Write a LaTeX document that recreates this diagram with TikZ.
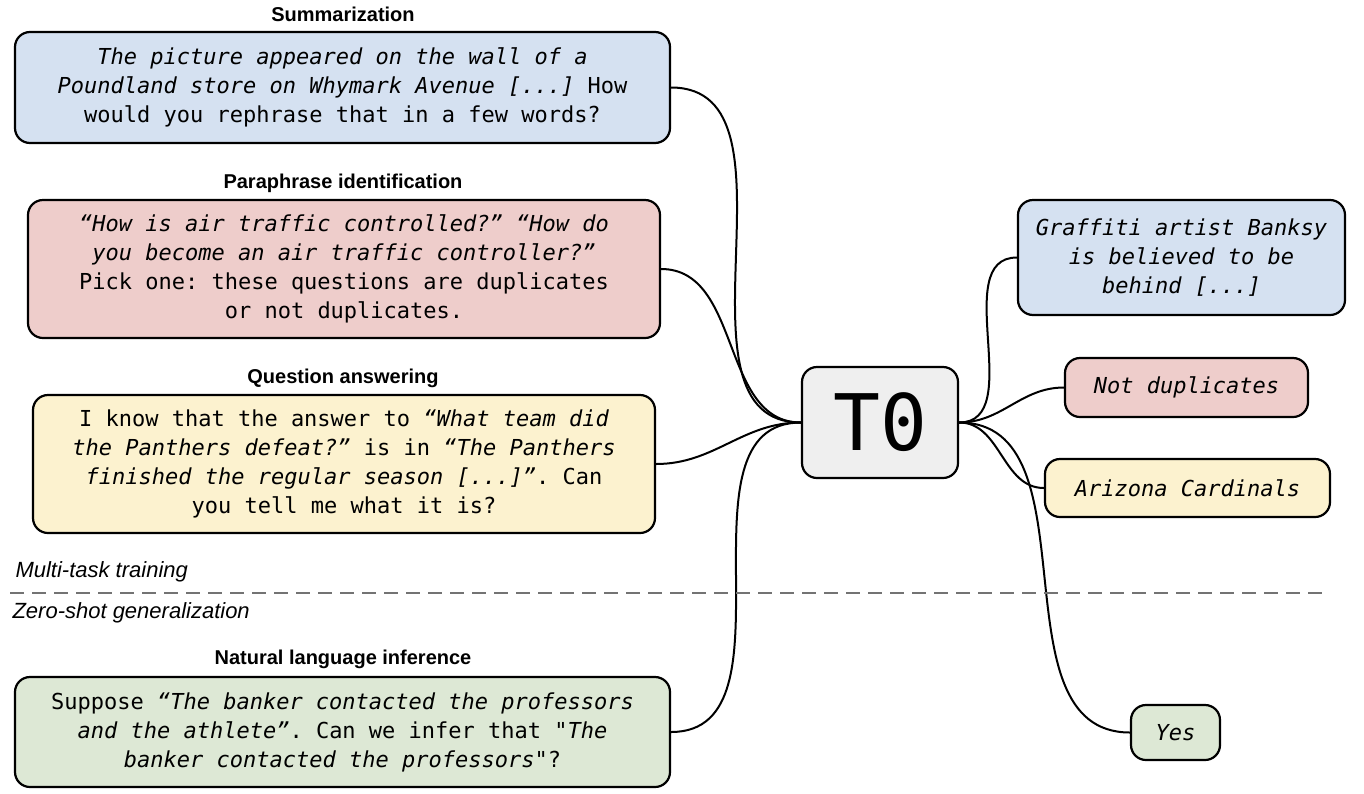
\documentclass[tikz,border=0pt]{standalone}
\usepackage{fontspec}
\setmainfont{Liberation Sans}
\setmonofont{DejaVu Sans Mono}
\definecolor{cblue}{HTML}{D5E1F1}
\definecolor{cred}{HTML}{EECDCB}
\definecolor{cyel}{HTML}{FCF2CF}
\definecolor{cgrn}{HTML}{DDE8D5}
\definecolor{cgray}{HTML}{EFEFEF}
\tikzset{
 box/.style={draw=black,line width=2.2pt,rounded corners=15pt,align=center,inner sep=0pt,
   font=\ttfamily\fontsize{22}{29}\selectfont},
 ttl/.style={font=\bfseries\fontsize{20}{24}\selectfont},
 lbl/.style={font=\itshape\fontsize{22}{26}\selectfont,anchor=west},
 con/.style={line width=2pt}
}
\begin{document}
\begin{tikzpicture}[x=1pt,y=-1pt]
\useasboundingbox (0,0) rectangle (1364,793);
\node[box,fill=cblue,minimum width=655pt,minimum height=111pt] (sum) at (342.5,87.5)
 {\itshape The picture appeared on the wall of a\\ \itshape Poundland store on Whymark Avenue [...]\upshape{} How\\ would you rephrase that in a few words?};
\node[ttl] (tsum) at (343,14) {Summarization};
\node[box,fill=cred,minimum width=632pt,minimum height=138pt] (para) at (344,269)
 {\itshape “How is air traffic controlled?” “How do\\ \itshape you become an air traffic controller?”\\ Pick one: these questions are duplicates\\ or not duplicates.};
\node[ttl] (tpara) at (343,183) {Paraphrase identification};
\node[box,fill=cyel,minimum width=622pt,minimum height=138pt] (qa) at (344,464)
 {I know that the answer to \itshape “What team did\\ \itshape the Panthers defeat?”\upshape{} is in \itshape “The Panthers\\ \itshape finished the regular season [...]”\upshape. Can\\ you tell me what it is?};
\node[ttl] (tqa) at (343,378) {Question answering};
\node[box,fill=cgrn,minimum width=655pt,minimum height=110pt] (nli) at (342.5,732)
 {Suppose \itshape “The banker contacted the professors\\ \itshape and the athlete”\upshape. Can we infer that "\itshape The\\ \itshape banker contacted the professors\upshape"?};
\node[ttl] (tnli) at (343,659) {Natural language inference};
\node[box,fill=cgray,minimum width=156pt,minimum height=111pt,font=\ttfamily\fontsize{78}{80}\selectfont] (t0) at (880,422.5) {T0};
\node[box,fill=cblue,minimum width=327pt,minimum height=115pt] (o1) at (1181.5,257.5)
 {\itshape Graffiti artist Banksy\\ \itshape is believed to be\\ \itshape behind [...]};
\node[box,fill=cred,minimum width=243pt,minimum height=59pt] (o2) at (1186.5,387.5) {\itshape Not duplicates};
\node[box,fill=cyel,minimum width=285pt,minimum height=58pt] (o3) at (1187.5,488) {\itshape Arizona Cardinals};
\node[box,fill=cgrn,minimum width=89pt,minimum height=55pt] (o4) at (1175.5,732.5) {\itshape Yes};
\draw[con] (sum.east) to[out=0,in=180] (t0.west);
\draw[con] (para.east) to[out=0,in=180] (t0.west);
\draw[con] (qa.east) to[out=0,in=180] (t0.west);
\draw[con] (nli.east) to[out=0,in=180] (t0.west);
\draw[con] (t0.east) to[out=0,in=180] (o1.west);
\draw[con] (t0.east) to[out=0,in=180] (o2.west);
\draw[con] (t0.east) to[out=0,in=180] (o3.west);
\draw[con] (t0.east) to[out=0,in=180] (o4.west);
\coordinate (dl) at (10,593);
\coordinate (dr) at (1325,593);
\draw[gray!90!black,line width=2.5pt,dash pattern=on 14pt off 8pt] (dl) -- (dr);
\node[lbl] (mt) at (12,572) {Multi-task training};
\node[lbl] (zs) at (9,613) {Zero-shot generalization};
\end{tikzpicture}
\end{document}
